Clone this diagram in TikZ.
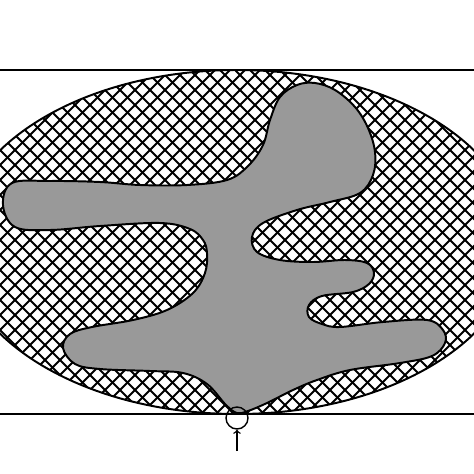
\documentclass[tikz,border=0pt]{standalone}
\begin{document}
\begin{tikzpicture}[x=0.025cm,y=-0.025cm,line width=1.4pt]
  \useasboundingbox (0,0) rectangle (474,474);

  \begin{scope}
    \clip (237,242) ellipse [x radius=280, y radius=172];
    \foreach \i in {-480,-465,...,960}
      \draw (\i,0) -- (\i-480,480);
    \foreach \i in {-480,-465,...,960}
      \draw (\i-480,0) -- (\i,480);
    \filldraw[fill=black!40] plot[smooth cycle, tension=0.6] coordinates {
      (237,413) (226,405) (207,384) (183,373) (150,371) (100,369) (75,364)
      (63,348) (70,334) (92,327) (133,320) (167,310) (193,293) (205,273)
      (207,253) (203,240) (190,229) (160,223) (100,226) (50,230) (15,227)
      (3,205) (12,183) (50,181) (100,182) (140,185) (187,185) (227,180)
      (248,166) (263,145) (270,120) (280,97) (297,85) (315,83) (335,90)
      (355,107) (368,128) (375,152) (373,175) (360,193) (330,202) (297,210)
      (263,223) (252,237) (257,252) (280,260) (313,262) (345,260) (367,263)
      (374,273) (369,284) (353,292) (322,296) (309,305) (309,317) (322,324)
      (340,327) (383,322) (427,320) (443,330) (445,343) (432,356) (400,363)
      (350,370) (317,380) (293,390) (267,403) (248,411)};
  \end{scope}
  \draw (237,242) ellipse [x radius=280, y radius=172];

  \foreach \i in {70,414}
    \draw (0,\i) -- (474,\i);

  \node[circle,draw,line width=1pt,inner sep=0pt,minimum size=0.55cm] (port) at (237,418) {};
  \coordinate (tail) at (237,451);
  \draw[->,line width=1pt] (tail) -- (port);
\end{tikzpicture}
\end{document}
